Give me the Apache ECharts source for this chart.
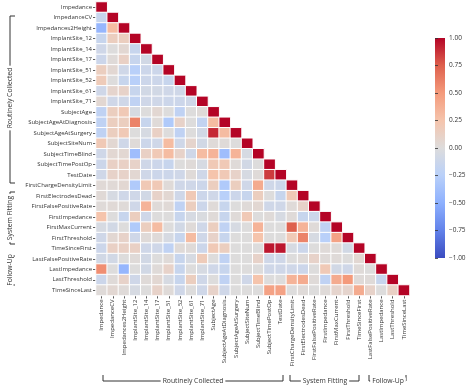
<!DOCTYPE html>
<html><head><meta charset="utf-8">
<script src="https://cdn.jsdelivr.net/npm/echarts@6/dist/echarts.min.js"></script>
<style>html,body{margin:0;padding:0;background:#fff}#c{width:474px;height:387px}</style>
</head><body><div id="c"></div>
<script>
const variables = ["Impedance","ImpedanceCV","Impedances2Height","ImplantSite_12","ImplantSite_14","ImplantSite_17","ImplantSite_51","ImplantSite_52","ImplantSite_61","ImplantSite_71","SubjectAge","SubjectAgeAtDiagnosis","SubjectAgeAtSurgery","SubjectSiteNum","SubjectTimeBlind","SubjectTimePostOp","TestDate","FirstChargeDensityLimit","FirstElectrodesDead","FirstFalsePositiveRate","FirstImpedance","FirstMaxCurrent","FirstThreshold","TimeSinceFirst","LastFalsePositiveRate","LastImpedance","LastThreshold","TimeSinceLast"];

// lower-triangle correlation rows (row i has i+1 values, ending with diagonal)
const corrRows = [
 [1],
 [-0.15, 1],
 [-0.45, 0.3, 1],
 [-0.15, 0.15, 0.15, 1],
 [-0.1, 0.0, 0.05, -0.15, 1],
 [-0.12, 0.02, 0.12, -0.15, -0.08, 1],
 [0.15, 0.05, -0.1, -0.25, -0.12, -0.12, 1],
 [0.18, 0.0, -0.15, -0.25, -0.12, -0.12, -0.15, 1],
 [-0.1, 0.08, 0.1, -0.15, -0.08, -0.08, -0.1, -0.1, 1],
 [0.05, -0.1, -0.1, -0.2, -0.1, -0.1, -0.12, -0.12, -0.1, 1],
 [-0.2, 0.15, 0.2, -0.05, 0.0, 0.05, 0.0, -0.2, 0.0, 0.02, 1],
 [-0.2, 0.15, 0.15, 0.6, -0.15, 0.02, -0.3, 0.1, 0.0, -0.18, 0.3, 1],
 [-0.2, 0.15, 0.2, 0.0, -0.05, 0.12, 0.0, -0.2, 0.0, -0.08, 0.9, 0.3, 1],
 [0.2, 0.05, -0.1, 0.02, -0.12, -0.1, 0.3, -0.1, 0.08, -0.08, 0.02, 0.02, 0.0, 1],
 [-0.1, 0.05, 0.05, -0.4, 0.12, 0.2, 0.3, 0.1, -0.1, 0.3, 0.35, -0.4, 0.35, -0.05, 1],
 [-0.12, 0.12, 0.12, 0.1, -0.1, -0.12, -0.15, 0.0, 0.02, -0.05, 0.2, 0.2, 0.02, -0.08, 0.0, 1],
 [-0.1, 0.1, 0.1, 0.05, -0.1, -0.12, -0.12, -0.1, 0.02, -0.1, 0.25, 0.2, 0.1, -0.05, 0.02, 0.85, 1],
 [0.03, 0.03, 0.05, -0.3, 0.2, 0.2, 0.02, -0.1, -0.1, -0.12, 0.15, -0.3, 0.15, -0.1, 0.4, -0.1, -0.12, 1],
 [0.03, -0.05, -0.1, -0.1, -0.08, 0.1, 0.05, -0.1, 0.2, -0.12, -0.1, -0.25, -0.12, -0.15, 0.15, 0.0, -0.15, 0.2, 1],
 [0.02, 0.03, 0.02, -0.1, 0.35, 0.02, 0.03, -0.2, 0.15, -0.12, 0.02, -0.15, 0.0, 0.02, 0.05, -0.1, -0.1, 0.02, 0.1, 1],
 [0.25, 0.0, -0.15, 0.15, -0.1, 0.0, 0.0, -0.15, -0.05, -0.03, 0.02, -0.15, 0.02, 0.2, 0.0, 0.02, -0.05, 0.02, -0.15, -0.12, 1],
 [-0.05, -0.08, 0.0, -0.3, 0.15, 0.3, 0.0, -0.08, 0.02, -0.1, 0.15, -0.2, -0.05, 0.0, 0.35, 0.0, 0.0, 0.75, 0.35, 0.02, -0.2, 1],
 [-0.1, 0.05, 0.1, -0.1, 0.02, 0.02, -0.05, -0.15, 0.3, -0.1, 0.1, -0.15, 0.0, 0.0, 0.25, 0.0, 0.0, 0.2, 0.6, -0.05, -0.25, 0.45, 1],
 [-0.12, 0.12, 0.12, 0.12, -0.1, -0.1, -0.2, 0.02, 0.02, -0.12, 0.2, 0.15, 0.0, 0.0, 0.0, 0.95, 0.95, -0.05, -0.12, 0.0, 0.02, 0.02, -0.08, 1],
 [-0.08, -0.08, 0.0, 0.02, -0.08, 0.0, 0.02, -0.15, -0.05, 0.18, 0.0, -0.2, 0.0, 0.0, 0.1, -0.1, -0.1, 0.0, 0.02, 0.1, 0.02, 0.02, 0.0, 0.05, 1],
 [0.55, 0.0, -0.45, 0.0, -0.08, 0.02, 0.1, -0.15, 0.0, -0.05, -0.1, -0.15, 0.0, 0.0, 0.0, -0.1, -0.1, -0.1, -0.12, 0.0, 0.2, -0.08, -0.1, 0.02, 0.0, 1],
 [-0.12, 0.02, 0.1, -0.1, 0.02, 0.05, -0.05, -0.15, 0.15, -0.1, 0.0, -0.2, 0.0, -0.1, 0.25, 0.0, 0.0, 0.35, 0.4, 0.02, -0.2, 0.4, 0.5, 0.02, 0.02, -0.15, 1],
 [0.02, 0.05, 0.02, -0.05, 0.0, 0.1, 0.02, -0.1, 0.0, -0.1, 0.1, -0.1, 0.0, 0.0, 0.0, 0.45, 0.45, 0.0, 0.02, 0.0, 0.02, 0.08, 0.08, 0.4, 0.1, 0.0, 0.12, 1]
];

const colorbarTicks = [-1, -0.75, -0.5, -0.25, 0, 0.25, 0.5, 0.75, 1];
const coolwarm = ['#3b4cc0','#6282ea','#8db0fe','#b9d0f9','#dddcdc','#f5c4ac','#f49a7b','#de604d','#b40426'];

const heatData = [];
corrRows.forEach((row, r) => row.forEach((v, c) => heatData.push([c, r, v])));

const FONT = 'Open Sans';
const labelStyle = {fontFamily: FONT, fontSize: 6, color: '#333'};

const chart = echarts.init(document.getElementById('c'), null, {renderer: 'canvas'});

function bracketV(x, y1, y2, text, cy) {
  return [
    {type:'polyline', shape:{points:[[x+5,y1],[x,y1],[x,y2],[x+5,y2]]}, style:{stroke:'#333', lineWidth:1, fill:null}},
    {type:'text', x: x, y: cy, rotation: Math.PI/2, style:{text:text, fontFamily:FONT, fontSize:6.8, fill:'#333', align:'center', verticalAlign:'middle', backgroundColor:'#fff', padding:[0,2]}}
  ];
}
function bracketH(y, x1, x2, text, cx) {
  return [
    {type:'polyline', shape:{points:[[x1,y-6],[x1,y],[x2,y],[x2,y-6]]}, style:{stroke:'#333', lineWidth:1, fill:null}},
    {type:'text', x: cx, y: y, style:{text:text, fontFamily:FONT, fontSize:6.8, fill:'#333', align:'center', verticalAlign:'middle', backgroundColor:'#fff', padding:[0,2]}}
  ];
}

const option = {
  backgroundColor: '#fff',
  animation: false,
  grid: [
    {left: 96, top: 2, width: 313.5, height: 293.5},
    {left: 435, top: 38, width: 10, height: 220, show: true, borderWidth: 0,
     backgroundColor: {type:'linear', x:0, y:0, x2:0, y2:1,
       colorStops: coolwarm.slice().reverse().map((c, i) => ({offset: i/(coolwarm.length-1), color: c}))}}
  ],
  xAxis: [
    {type:'category', data: variables, gridIndex:0, position:'bottom',
     axisLine:{show:false}, splitLine:{show:false},
     axisTick:{show:true, alignWithLabel:true, length:3, lineStyle:{color:'#333', width:0.8}},
     axisLabel: Object.assign({rotate:90, interval:0, margin:4}, labelStyle)},
    {type:'value', gridIndex:1, show:false, min:0, max:1}
  ],
  yAxis: [
    {type:'category', data: variables, gridIndex:0, inverse:true,
     axisLine:{show:false}, splitLine:{show:false},
     axisTick:{show:true, alignWithLabel:true, length:3, lineStyle:{color:'#333', width:0.8}},
     axisLabel: Object.assign({interval:0, margin:4}, labelStyle)},
    {type:'value', gridIndex:1, position:'right', min: colorbarTicks[0], max: colorbarTicks[colorbarTicks.length-1], interval: 0.25,
     axisLine:{show:false}, splitLine:{show:false},
     axisTick:{show:true, length:3, lineStyle:{color:'#333', width:0.8}},
     axisLabel:{fontFamily:FONT, fontSize:6.5, color:'#333', margin:4,
       formatter: v => (v < 0 ? '\u2212' : '') + Math.abs(v).toFixed(2)}}
  ],
  visualMap: {show:false, type:'continuous', min:-1, max:1, dimension:2, seriesIndex:0, inRange:{color: coolwarm}},
  series: [{
    type:'heatmap', xAxisIndex:0, yAxisIndex:0, data: heatData,
    itemStyle:{borderColor:'#fff', borderWidth:1},
    emphasis:{disabled:true}
  }],
  graphic: [].concat(
    bracketV(10, 16, 183, 'Routinely Collected', 98),
    bracketV(10, 192, 244, 'System Fitting', 218),
    bracketV(10, 256, 285, 'Follow-Up', 270),
    bracketH(381, 103, 283, 'Routinely Collected', 193),
    bracketH(381, 290, 359, 'System Fitting', 325),
    bracketH(381, 369, 406, 'Follow-Up', 388)
  )
};
chart.setOption(option);
</script></body></html>
